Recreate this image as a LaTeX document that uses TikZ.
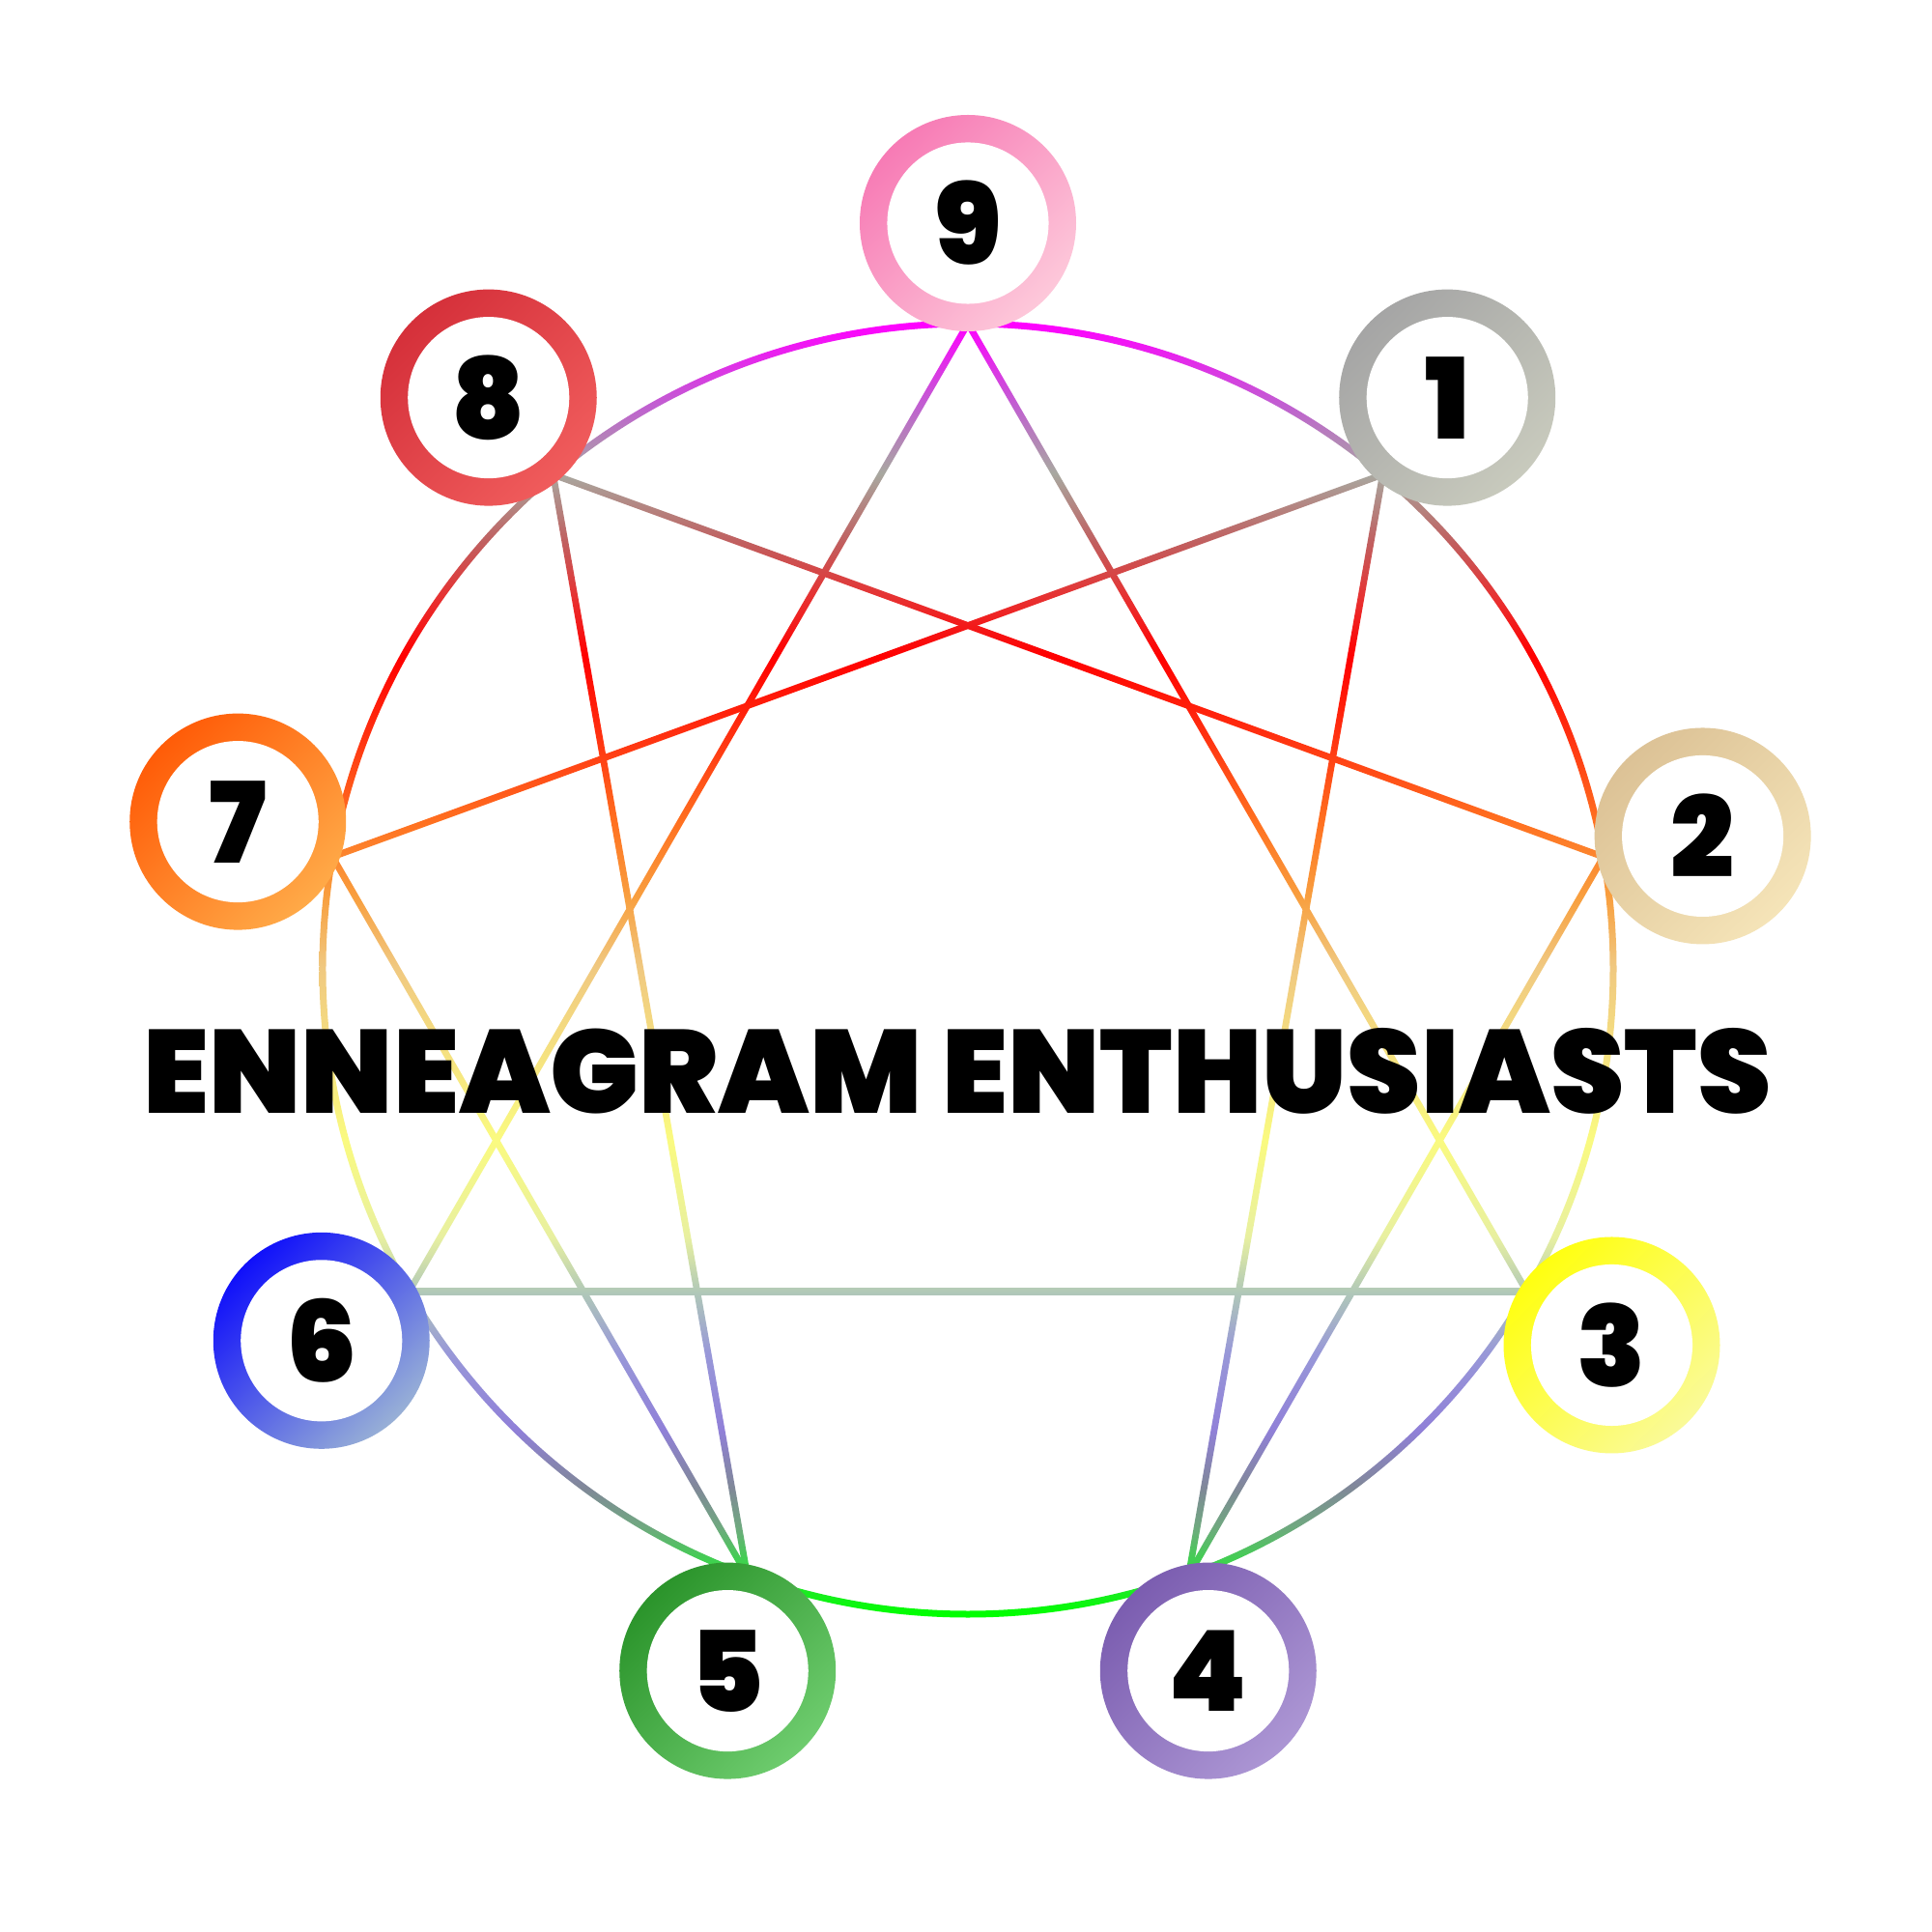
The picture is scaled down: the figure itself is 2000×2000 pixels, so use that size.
\documentclass[tikz,border=0pt]{standalone}
\usepackage{fontspec}
\newfontfamily\popfont{Poppins Black}
\usetikzlibrary{calc}
\definecolor{s01}{HTML}{00FF00}
\definecolor{s02}{HTML}{40D050}
\definecolor{s03}{HTML}{70A880}
\definecolor{s04}{HTML}{808898}
\definecolor{s05}{HTML}{9080D8}
\definecolor{s06}{HTML}{9898D8}
\definecolor{s07}{HTML}{B0C8B8}
\definecolor{s08}{HTML}{E8F0A0}
\definecolor{s09}{HTML}{FAFA80}
\definecolor{s10}{HTML}{F0C880}
\definecolor{s11}{HTML}{F8A040}
\definecolor{s12}{HTML}{FF7020}
\definecolor{s13}{HTML}{FF3010}
\definecolor{s14}{HTML}{FF0000}
\definecolor{s15}{HTML}{E83030}
\definecolor{s16}{HTML}{C06060}
\definecolor{s17}{HTML}{A8A8A0}
\definecolor{s18}{HTML}{C060D0}
\definecolor{s19}{HTML}{FF00FF}
\pgfdeclareverticalshading{enn}{100bp}{color(0bp)=(s01); color(26.14bp)=(s01); color(28.14bp)=(s02); color(29.39bp)=(s03); color(30.82bp)=(s04); color(32.96bp)=(s05); color(35.82bp)=(s06); color(38.04bp)=(s07); color(40.11bp)=(s08); color(43.68bp)=(s09); color(50.11bp)=(s10); color(52.61bp)=(s11); color(55.46bp)=(s12); color(58.68bp)=(s13); color(61.54bp)=(s14); color(63.68bp)=(s15); color(65.82bp)=(s16); color(68.32bp)=(s17); color(70.82bp)=(s18); color(73.86bp)=(s19); color(100bp)=(s19)}
% badge colours: a = top-left, b = bottom-right
\definecolor{a9}{HTML}{F77BB5}\definecolor{b9}{HTML}{FDC8DA}
\definecolor{a8}{HTML}{D5303A}\definecolor{b8}{HTML}{F05C5C}
\definecolor{a1}{HTML}{A5A5A5}\definecolor{b1}{HTML}{C8CABD}
\definecolor{a2}{HTML}{DCC296}\definecolor{b2}{HTML}{F5E4B8}
\definecolor{a3}{HTML}{FFFF10}\definecolor{b3}{HTML}{FAFA98}
\definecolor{a4}{HTML}{7B5DB0}\definecolor{b4}{HTML}{AC96D4}
\definecolor{a5}{HTML}{2B942B}\definecolor{b5}{HTML}{6ECC6E}
\definecolor{a6}{HTML}{1010FA}\definecolor{b6}{HTML}{98B0D6}
\definecolor{a7}{HTML}{FF5C08}\definecolor{b7}{HTML}{FFAA48}
\newcommand\gradline[2]{%
  \begin{scope}
    \clip ($(#1)!0.034cm!90:(#2)$) -- ($(#1)!0.034cm!-90:(#2)$) --
          ($(#2)!0.034cm!90:(#1)$) -- ($(#2)!0.034cm!-90:(#1)$) -- cycle;
    \shade[shading=enn] (-700,-700) rectangle (700,700);
  \end{scope}}
\tikzset{
  badge/.style={circle, fill=white, minimum size=1.67cm, inner sep=0pt,
    font=\popfont\fontsize{33}{33}\selectfont},
  titletext/.style={inner sep=0pt, font=\popfont\fontsize{34.8}{35}\selectfont}
}
\begin{document}
\begin{tikzpicture}[x=0.01cm,y=0.01cm]
\useasboundingbox (-1002,-997) rectangle (998,1003);
\fill[white] (-1002,-997) rectangle (998,1003);
\coordinate (c) at (0,0);
% points on the circle
\foreach \k/\a in {9/90,1/50,2/10,3/-30,4/-70,5/-110,6/-150,7/170,8/130}{
  \coordinate (p\k) at (\a:668);
}
% badge centres
\foreach \k/\a/\r in {9/90/772,1/50/772,2/10.25/773,3/-30.3/772,4/-71.1/768,5/-108.9/768,6/-150.1/772,7/168.6/771,8/130/772}{
  \coordinate (b\k) at (\a:\r);
}
% outer circle
\begin{scope}[even odd rule]
  \clip (c) circle (671.5) (c) circle (664.5);
  \shade[shading=enn] (-700,-700) rectangle (700,700);
\end{scope}
% inner lines
\gradline{p1}{p4}
\gradline{p4}{p2}
\gradline{p2}{p8}
\gradline{p8}{p5}
\gradline{p5}{p7}
\gradline{p7}{p1}
\gradline{p9}{p3}
\gradline{p3}{p6}
\gradline{p6}{p9}
% badges
\foreach \k in {1,...,9}{
  \shade[top color=a\k, bottom color=b\k, shading angle=45] (b\k) circle (112);
  \node[badge] (n\k) at (b\k) {\k};
}
\node[titletext] (title) at (-11,-106) {ENNEAGRAM ENTHUSIASTS};
\end{tikzpicture}
\end{document}
